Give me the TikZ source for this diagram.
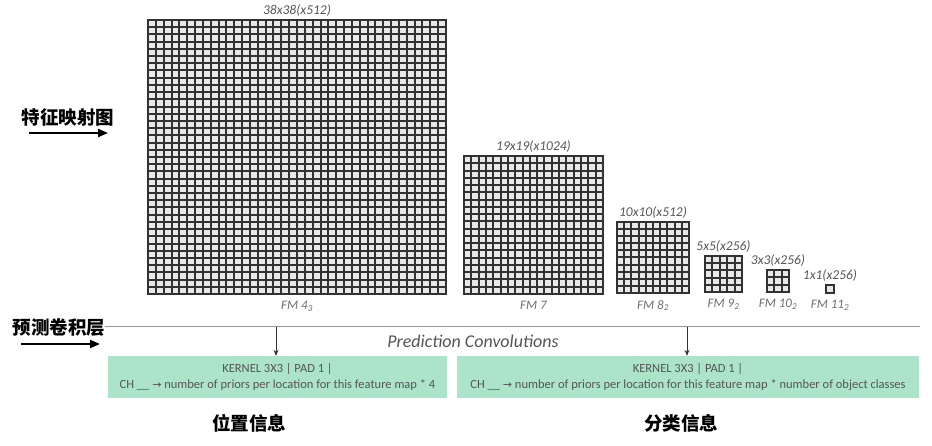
\documentclass[tikz,border=0pt]{standalone}
\usepackage{fontspec}
\setmainfont{Carlito}
\newfontfamily\cjk{Noto Sans CJK SC}
\newfontfamily\symfont{DejaVu Sans}
\usepackage{xcolor}
\usetikzlibrary{positioning, arrows.meta}

% feature map grid: name, left, bottom, width, height, cells
\newcommand{\featgrid}[6]{%
  \node[gridbox, minimum width=#4pt, minimum height=#5pt, anchor=south west] (#1) at (#2,#3) {};
  \foreach \k in {0,...,#6} {
    \draw[gridline] ({round(#2+\k*#4/#6)},#3) -- ++(0,#5);
    \draw[gridline] (#2,{round(#3+\k*#5/#6)}) -- ++(#4,0);
  }%
}

\begin{document}
\begin{tikzpicture}[x=1pt, y=1pt,
    gridbox/.style={fill=gridfill, inner sep=0pt, outer sep=0pt},
    gridline/.style={draw=gridedge, line width=2pt, line cap=rect},
    sizelabel/.style={font=\itshape\fontsize{13.5}{13.5}\selectfont, text=labelgray, inner sep=1pt},
    fmlabel/.style={font=\itshape\fontsize{13}{13}\selectfont, text=labelgray!85, inner sep=1pt},
    cjklabel/.style={font=\cjk\bfseries\fontsize{18.5}{18.5}\selectfont, inner sep=0pt},
    convbox/.style={fill=boxgreen, text=labelgray, align=center, inner sep=0pt,
                    font=\fontsize{12.5}{15.5}\selectfont},
    convarrow/.style={draw=gridedge, line width=0.8pt, -{Stealth[length=6pt,width=5pt]}},
    bigarrow/.style={line width=2pt, -{Triangle[length=10pt,width=8pt]}}]
        % Define some colors for convenience
        \definecolor{gridfill}{RGB}{232,232,232} % cell color
        \definecolor{gridedge}{RGB}{50,50,50} % grid line color
        \definecolor{labelgray}{RGB}{85,85,85} % text color
        \definecolor{linegray}{RGB}{150,150,150} % separator color
        \definecolor{boxgreen}{RGB}{172,228,202} % conv box color

        \useasboundingbox (0,0) rectangle (932,445);

        % Feature maps
        \featgrid{g43}{148}{151}{298}{274}{38} % FM 4_3
        \featgrid{g7}{464}{151}{139}{138}{19} % FM 7
        \featgrid{g82}{617}{152}{72}{71}{10} % FM 8_2
        \featgrid{g92}{705}{153}{37}{36}{5} % FM 9_2
        \featgrid{g102}{767}{153}{22}{22}{3} % FM 10_2
        \featgrid{g112}{826}{152}{8}{8}{1} % FM 11_2

        % Size labels
        \node[sizelabel, above=2pt of g43] (s43) {38x38(x512)};
        \node[sizelabel, above=2pt of g7] (s7) {19x19(x1024)};
        \node[sizelabel, above=2pt of g82] (s82) {10x10(x512)};
        \node[sizelabel, above=2pt of g92] (s92) {5x5(x256)};
        \node[sizelabel, above=2pt of g102] (s102) {3x3(x256)};
        \node[sizelabel, above=2pt of g112] (s112) {1x1(x256)};

        % Map names
        \node[fmlabel, below=6pt of g43] (f43) {FM 4\textsubscript{3}};
        \node[fmlabel, below=6pt of g7] (f7) {FM 7};
        \node[fmlabel, below=6pt of g82] (f82) {FM 8\textsubscript{2}};
        \node[fmlabel, below=6pt of g92] (f92) {FM 9\textsubscript{2}};
        \node[fmlabel, below=6pt of g102] (f102) {FM 10\textsubscript{2}};
        \node[fmlabel, below=6pt of g112] (f112) {FM 11\textsubscript{2}};

        % Left side labels
        \node[cjklabel] (fmtext) at (68,328) {特征映射图};
        \coordinate (fmtail) at (29,312);
        \coordinate (fmhead) at (108,312);
        \draw[bigarrow] (fmtail) -- (fmhead);
        \node[cjklabel] (predlayer) at (59,117) {预测卷积层};
        \coordinate (predtail) at (21,101);
        \coordinate (predhead) at (100,101);
        \draw[bigarrow] (predtail) -- (predhead);

        % Prediction convolutions
        \coordinate (lineend) at (920,118.5);
        \draw[linegray, line width=1pt] (predlayer.east |- lineend) -- (lineend);
        \node[text=labelgray, font=\itshape\fontsize{18}{18}\selectfont] (predconv) at (473,104) {Prediction Convolutions};
        \node[convbox, minimum width=339pt, minimum height=42pt] (locbox) at (277.5,68)
            {KERNEL 3X3 | PAD 1 |\\CH \_\_ {\symfont\fontsize{11}{11}\selectfont →} number of priors per location for this feature map * 4};
        \node[convbox, minimum width=462pt, minimum height=42pt] (clsbox) at (688,68)
            {KERNEL 3X3 | PAD 1 |\\CH \_\_ {\symfont\fontsize{11}{11}\selectfont →} number of priors per location for this feature map * number of object classes};
        \coordinate (tapL) at (276,118.5);
        \coordinate (tapR) at (687,118.5);
        \draw[convarrow] (tapL) -- (tapL |- locbox.north);
        \draw[convarrow] (tapR) -- (tapR |- clsbox.north);

        % Bottom labels
        \node[cjklabel] (loctext) at (249,22) {位置信息};
        \node[cjklabel] (clstext) at (681,22) {分类信息};
    \end{tikzpicture}
\end{document}
